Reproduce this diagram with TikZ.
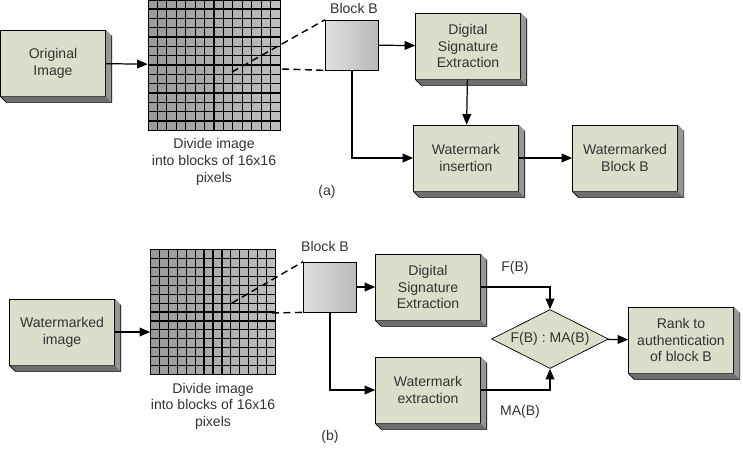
\documentclass[tikz,border=0pt]{standalone}
\usepackage{fontspec}
\setmainfont{Liberation Sans}
\usetikzlibrary{arrows.meta, shapes.geometric, calc}
\definecolor{boxfill}{RGB}{218,222,203}
\definecolor{boxside}{RGB}{150,150,150}
\definecolor{boxbottom}{RGB}{110,110,110}
\tikzset{
    my-box/.style={
        draw, fill=boxfill, minimum width=2.1cm, minimum height=1.32cm,
        align=center, inner sep=1pt, font=\fontsize{8}{9.6}\selectfont, text=black!80
    },
    my-image/.style={
        draw, shading=axis, left color=gray!80, right color=gray!50, inner sep=0pt
    },
    my-block/.style={
        draw, shading=axis, left color=gray!25, right color=gray!55,
        minimum width=1.06cm, minimum height=1cm, inner sep=0pt
    },
    my-label/.style={
        font=\fontsize{8}{9.6}\selectfont, align=center, text=black!80
    },
    my-arrow/.style={
        -{Triangle[length=6pt, width=5pt]}, line width=0.7pt
    },
    my-dash/.style={
        dashed, line width=0.8pt, dash pattern=on 4pt off 2.5pt
    },
}
% 3D side faces of a box
\newcommand{\boxdepth}[1]{
    \fill[boxside] (#1.north east) -- ++(6,6) -- ($(#1.south east)+(6,6)$) -- (#1.south east) -- cycle;
    \fill[boxbottom] (#1.south west) -- ++(6,6) -- ($(#1.south east)+(6,6)$) -- (#1.south east) -- cycle;
    \draw ($(#1.north east)+(6,6)$) -- ($(#1.south east)+(6,6)$) -- ($(#1.south west)+(6,6)$) -- (#1.south west);
}
% grid of blocks over an image
\newcommand{\blockgrid}[1]{
    \foreach \k in {1,...,13} {
        \draw[line width=0.6pt] ($(#1.north west)!\k/14!(#1.north east)$) -- ($(#1.south west)!\k/14!(#1.south east)$);
        \draw[line width=0.6pt] ($(#1.north west)!\k/14!(#1.south west)$) -- ($(#1.north east)!\k/14!(#1.south east)$);
    }
}

\begin{document}
\begin{tikzpicture}[x=0.02cm, y=-0.02cm]
    \useasboundingbox (0,0) rectangle (743,451);

    % (a) EMBEDDING ---------------------------------------------------------

    % BOXES
    \node[my-box] (ORIG) at (53,63)   {Original\\Image};
    \node[my-box] (DSEA) at (468,46)  {Digital\\Signature\\Extraction};
    \node[my-box] (WINS) at (466,158) {Watermark\\insertion};
    \node[my-box] (WBLK) at (625,158) {Watermarked\\Block B};
    \foreach \b in {ORIG, DSEA, WINS, WBLK} {\boxdepth{\b}}

    % IMAGE, GRID AND BLOCK
    \node[my-image, minimum width=2.64cm, minimum height=2.6cm] (GRIDA) at (214,65) {};
    \blockgrid{GRIDA}
    \node[my-label, below=1pt] (DIVA) at (GRIDA.south) {Divide image\\into blocks of 16x16\\pixels};
    \node[my-block] (BLKA) at (352,45) {};
    \node[my-label] (BLKALBL) at (354,8) {Block B};
    \coordinate (PICKA) at (232,72);
    \coordinate (PICKA2) at (282,69);
    \draw[my-dash] (PICKA) -- (BLKA.north west);
    \draw[my-dash] (PICKA2) -- (BLKA.south west);

    % WIRES
    \draw[my-arrow] (ORIG) -- (GRIDA);
    \draw[my-arrow] (BLKA) -- (DSEA);
    \draw[my-arrow] (BLKA.south) |- (WINS);
    \draw[my-arrow] (DSEA) -- (WINS);
    \draw[my-arrow] (WINS) -- (WBLK);
    \node[my-label] (CAPA) at (327,192) {(a)};

    % (b) VERIFICATION ------------------------------------------------------

    % BOXES
    \node[my-box] (WIMG) at (62,332)  {Watermarked\\image};
    \node[my-box] (DSEB) at (428,287) {Digital\\Signature\\Extraction};
    \node[my-box] (WEXT) at (428,390) {Watermark\\extraction};
    \node[my-box] (RANK) at (681,340) {Rank to\\authentication\\of block B};
    \foreach \b in {WIMG, DSEB, WEXT, RANK} {\boxdepth{\b}}
    \node[draw, fill=boxfill, diamond, aspect=2, minimum width=2.34cm, minimum height=1.18cm,
          inner sep=0pt, text=black!80, font=\fontsize{8}{9.6}\selectfont] (CMP) at (550,339) {F(B) : MA(B)};

    % IMAGE, GRID AND BLOCK
    \node[my-image, minimum width=2.5cm, minimum height=2.5cm] (GRIDB) at (213,312) {};
    \blockgrid{GRIDB}
    \node[my-label, below=1pt] (DIVB) at (GRIDB.south) {Divide image\\into blocks of 16x16\\pixels};
    \node[my-block] (BLKB) at (330,287) {};
    \node[my-label] (BLKBLBL) at (325,246) {Block B};
    \coordinate (PICKB) at (232,303);
    \coordinate (PICKB2) at (272,313);
    \draw[my-dash] (PICKB) -- (BLKB.north west);
    \draw[my-dash] (PICKB2) -- (BLKB.south west);

    % WIRES
    \draw[my-arrow] (WIMG.east) -- (WIMG.east -| GRIDB.west);
    \draw[my-arrow] (BLKB) -- (DSEB);
    \draw[my-arrow] (BLKB.south) |- (WEXT);
    \draw[my-arrow] (DSEB) -| (CMP.north);
    \draw[my-arrow] (WEXT) -| (CMP.south);
    \draw[my-arrow] (CMP) -- (RANK);
    \node[my-label] (FB)  at (515,268) {F(B)};
    \node[my-label] (MAB) at (520,412) {MA(B)};
    \node[my-label] (CAPB) at (330,437) {(b)};

\end{tikzpicture}
\end{document}
